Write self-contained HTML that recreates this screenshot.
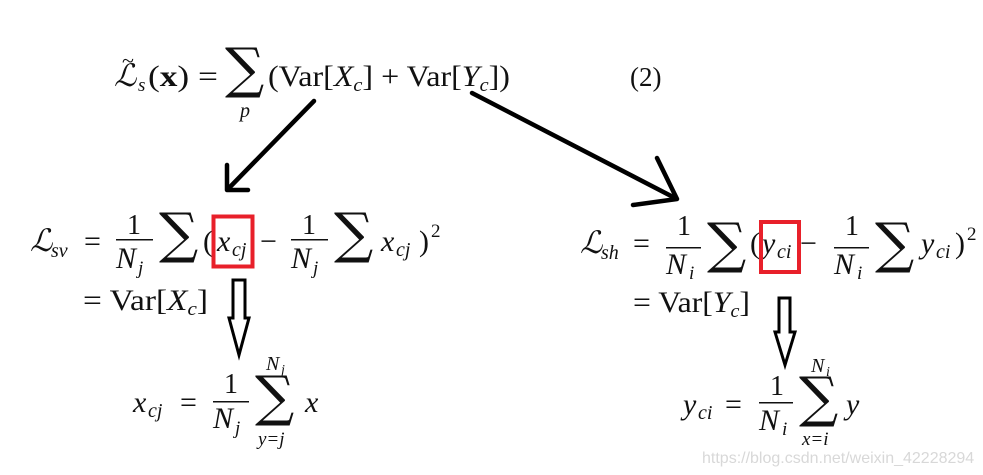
<!DOCTYPE html>
<html><head><meta charset="utf-8"><style>
html,body{margin:0;padding:0;background:#fff;}
svg{display:block;}
text{font-family:"Liberation Serif","DejaVu Serif",serif;fill:#111;}
.i{font-style:italic;}
.s{font-family:"DejaVu Serif","Liberation Serif",serif;}
</style></head><body>
<svg width="983" height="475" viewBox="0 0 983 475" xmlns="http://www.w3.org/2000/svg">
<!-- top equation -->
<text x="114" y="86" font-size="31" class="i">ℒ</text>
<text x="122" y="68" font-size="22">~</text>
<text x="138" y="91" font-size="19" class="i">s</text>
<text x="148" y="86" font-size="30" textLength="70" lengthAdjust="spacingAndGlyphs">(<tspan font-weight="bold">x</tspan>) =</text>
<text x="225" y="87" font-size="55" class="s">∑</text>
<text x="240" y="117" font-size="20" class="i">p</text>
<text x="268" y="86" font-size="30" textLength="242" lengthAdjust="spacingAndGlyphs">(Var[<tspan class="i">X</tspan><tspan class="i" font-size="19" dy="5">c</tspan><tspan dy="-5">] + Var[</tspan><tspan class="i">Y</tspan><tspan class="i" font-size="19" dy="5">c</tspan><tspan dy="-5">])</tspan></text>
<text x="630" y="86" font-size="27">(2)</text>

<!-- arrows -->
<g stroke="#000" stroke-width="4.5" fill="none" stroke-linecap="round" stroke-linejoin="round">
<path d="M314 101 L229 188"/>
<path d="M227 165 L227 190 L248 190"/>
<path d="M472 93 L675 198"/>
<path d="M657 158 L677 199 L633 205"/>
</g>
<g stroke="#000" stroke-width="3" fill="none">
<path d="M233 280 L245 280 L245 318 L249 318 L239 355 L229 318 L233 318 Z"/>
<path d="M779 298 L790 298 L790 332 L795 332 L785 365 L775 332 L779 332 Z"/>
</g>

<!-- left equation -->
<text x="30" y="251" font-size="31" class="i">ℒ</text>
<text x="51" y="257" font-size="20" class="i">sv</text>
<text x="84" y="251" font-size="30">=</text>
<text x="127" y="234" font-size="28">1</text>
<rect x="116" y="239" width="37" height="1.5" fill="#111"/>
<text x="116" y="268" font-size="30" class="i">N</text><text x="138" y="274" font-size="19" class="i">j</text>
<text x="159" y="252" font-size="55" class="s">∑</text>
<text x="203" y="251" font-size="30">(</text>
<text x="217" y="251" font-size="30" class="i">x</text><text x="232" y="256" font-size="20" class="i">cj</text>
<text x="260" y="251" font-size="30">−</text>
<text x="302" y="234" font-size="28">1</text>
<rect x="291" y="239" width="37" height="1.5" fill="#111"/>
<text x="291" y="268" font-size="30" class="i">N</text><text x="313" y="274" font-size="19" class="i">j</text>
<text x="334" y="252" font-size="55" class="s">∑</text>
<text x="381" y="251" font-size="30" class="i">x</text><text x="396" y="256" font-size="20" class="i">cj</text>
<text x="419" y="251" font-size="30">)</text>
<text x="431" y="237" font-size="19">2</text>
<rect x="213.5" y="216.5" width="39" height="50" fill="none" stroke="#e8202a" stroke-width="4"/>
<text x="83" y="310" font-size="30" textLength="125" lengthAdjust="spacingAndGlyphs">= Var[<tspan class="i">X</tspan><tspan class="i" font-size="19" dy="5">c</tspan><tspan dy="-5">]</tspan></text>

<!-- left bottom -->
<text x="133" y="412" font-size="30" class="i">x</text><text x="148" y="417" font-size="20" class="i">cj</text>
<text x="180" y="412" font-size="30">=</text>
<text x="224" y="393" font-size="28">1</text>
<rect x="213" y="401" width="36" height="1.5" fill="#111"/>
<text x="213" y="428" font-size="30" class="i">N</text><text x="235" y="434" font-size="19" class="i">j</text>
<text x="255" y="415" font-size="55" class="s">∑</text>
<text x="266" y="370" font-size="20" class="i">N</text><text x="281" y="374" font-size="14" class="i">j</text>
<text x="258" y="445" font-size="19" class="i">y=j</text>
<text x="305" y="412" font-size="30" class="i">x</text>

<!-- right equation -->
<text x="580" y="253" font-size="31" class="i">ℒ</text>
<text x="601" y="259" font-size="20" class="i">sh</text>
<text x="633" y="253" font-size="30">=</text>
<text x="677" y="235" font-size="28">1</text>
<rect x="666" y="247" width="35" height="1.5" fill="#111"/>
<text x="666" y="274" font-size="30" class="i">N</text><text x="689" y="279" font-size="19" class="i">i</text>
<text x="707" y="262" font-size="55" class="s">∑</text>
<text x="750" y="253" font-size="30">(</text>
<text x="762" y="253" font-size="30" class="i">y</text><text x="777" y="258" font-size="20" class="i">ci</text>
<text x="800" y="253" font-size="30">−</text>
<text x="845" y="235" font-size="28">1</text>
<rect x="834" y="247" width="35" height="1.5" fill="#111"/>
<text x="834" y="274" font-size="30" class="i">N</text><text x="857" y="279" font-size="19" class="i">i</text>
<text x="875" y="262" font-size="55" class="s">∑</text>
<text x="921" y="253" font-size="30" class="i">y</text><text x="936" y="258" font-size="20" class="i">ci</text>
<text x="955" y="253" font-size="30">)</text>
<text x="967" y="240" font-size="19">2</text>
<rect x="761" y="222" width="38" height="50" fill="none" stroke="#e8202a" stroke-width="4"/>
<text x="633" y="312" font-size="30" textLength="117" lengthAdjust="spacingAndGlyphs">= Var[<tspan class="i">Y</tspan><tspan class="i" font-size="19" dy="5">c</tspan><tspan dy="-5">]</tspan></text>

<!-- right bottom -->
<text x="683" y="414" font-size="30" class="i">y</text><text x="698" y="419" font-size="20" class="i">ci</text>
<text x="725" y="414" font-size="30">=</text>
<text x="770" y="395" font-size="28">1</text>
<rect x="759" y="402" width="34" height="1.5" fill="#111"/>
<text x="759" y="430" font-size="30" class="i">N</text><text x="782" y="435" font-size="19" class="i">i</text>
<text x="799" y="416" font-size="55" class="s">∑</text>
<text x="811" y="372" font-size="20" class="i">N</text><text x="826" y="376" font-size="14" class="i">i</text>
<text x="802" y="445" font-size="19" class="i">x=i</text>
<text x="846" y="414" font-size="30" class="i">y</text>

<text x="702" y="463" font-size="16" style="font-family:'Liberation Sans',sans-serif;fill:#d8d8d8">https://blog.csdn.net/weixin_42228294</text>
</svg>
</body></html>
